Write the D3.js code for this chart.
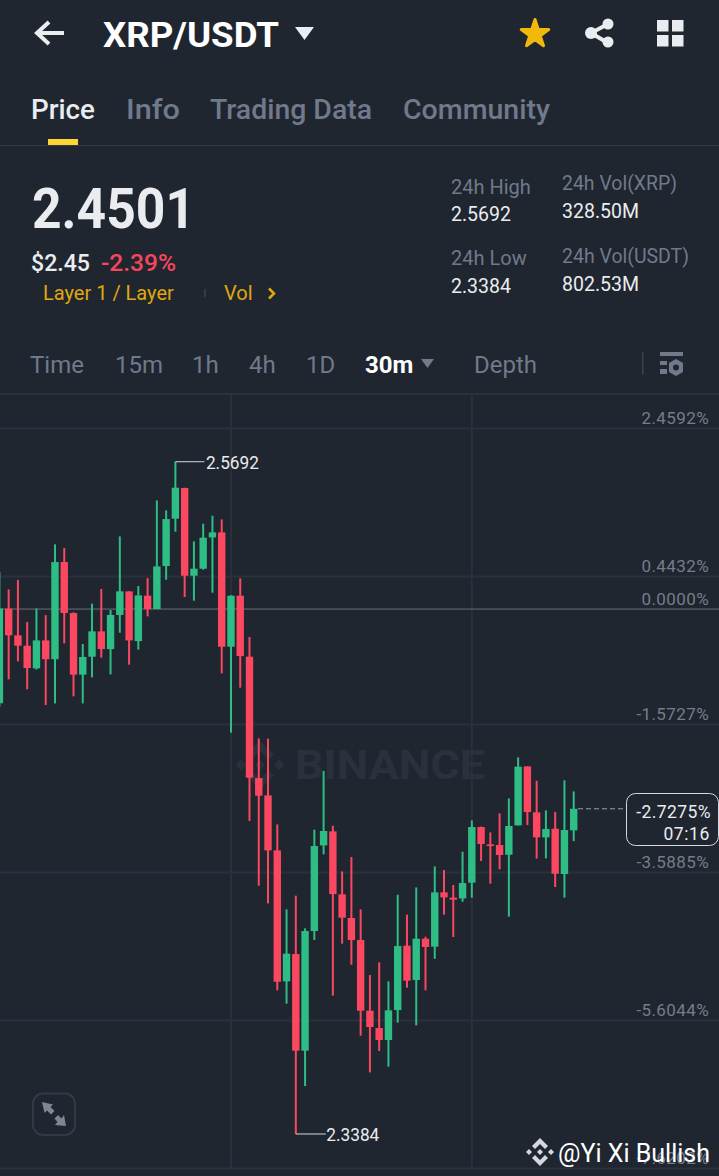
<!DOCTYPE html>
<html>
<head>
<meta charset="utf-8">
<script src="https://cdn.jsdelivr.net/npm/d3@7"></script>
<style>
html, body { margin: 0; padding: 0; background: #1f2630; overflow: hidden; }
svg { display: block; }
text { font-family: "Roboto", sans-serif; }
</style>
</head>
<body>
<div id="chart"></div>
<script>
// Candle values, in % from the day's open
var candleOpen = [-1.29, 0.00, -0.365, -0.506, -0.815, -0.434, -0.69, 0.633, -0.061, -0.90, -0.656, -0.311, -0.552, -0.088, 0.234, -0.443, 0.175, -0.007, 0.579, 1.224, 1.641, 0.447, 0.543, 0.969, 1.037, -0.52, 0.175, -0.656, -2.309, -2.545, -3.294, -5.078, -4.706, -6.022, -4.392, -3.226, -3.035, -3.893, -4.215, -4.515, -5.478, -5.714, -5.877, -5.469, -4.592, -5.06, -4.497, -4.606, -3.866, -3.938, -3.948, -3.734, -2.976, -3.212, -3.221, -3.353, -2.953, -2.15, -2.776, -3.117, -2.999, -3.616, -3.021];
var candleClose = [0.00, -0.365, -0.506, -0.81, -0.434, -0.69, 0.633, -0.061, -0.90, -0.66, -0.311, -0.552, -0.088, 0.234, -0.434, 0.179, -0.007, 0.574, 1.219, 1.646, 0.447, 0.543, 0.965, 1.037, -0.52, 0.175, -0.647, -2.304, -2.549, -3.294, -5.083, -4.701, -6.022, -4.393, -3.235, -3.03, -3.889, -4.211, -4.515, -5.478, -5.70, -5.877, -5.473, -4.597, -5.069, -4.497, -4.61, -3.866, -3.934, -3.966, -3.739, -2.976, -3.207, -3.235, -3.357, -2.962, -2.154, -2.772, -3.117, -3.003, -3.612, -3.017, -2.7275];
var candleHigh = [0.50, 0.26, 0.39, -0.184, 0.00, -0.09, 0.874, 0.824, -0.052, -0.483, 0.066, 0.266, -0.02, 0.983, 0.234, 0.306, 0.415, 1.473, 1.337, 2.00, 1.646, 0.915, 1.155, 1.264, 1.214, 0.18, 0.411, -0.388, -1.768, -1.773, -2.94, -4.097, -3.911, -4.356, -3.012, -2.213, -2.958, -3.58, -3.385, -4.097, -4.992, -4.819, -5.078, -3.898, -4.17, -3.798, -4.47, -3.512, -3.562, -3.766, -3.312, -2.885, -2.97, -3.049, -2.79, -2.586, -2.027, -2.15, -2.345, -2.749, -2.772, -2.34, -2.49];
var candleLow = [-1.34, -0.965, -0.72, -1.10, -0.83, -1.314, -1.292, -0.474, -1.196, -1.292, -0.937, -0.67, -0.897, -0.329, -0.765, -0.56, -0.107, -0.007, 0.393, 1.047, 0.157, 0.107, 0.529, 0.216, -0.883, -1.691, -1.078, -2.894, -3.775, -4.016, -5.20, -5.382, -7.157, -6.504, -4.515, -3.348, -5.273, -4.565, -4.851, -5.818, -6.318, -6.027, -6.24, -5.641, -5.164, -5.677, -5.20, -4.77, -4.17, -4.474, -3.993, -3.938, -3.439, -3.748, -3.553, -4.197, -2.953, -2.949, -3.407, -3.403, -3.793, -3.938, -3.167];

var percentTicks = [2.4592, 0.4432, 0, -1.5727, -3.5885, -5.6044, -7.6202];
var timeGridCandles = [25, 51];
var highCandle = 19, highLabel = "2.5692";
var lowCandle = 32, lowLabel = "2.3384";
var lastPercent = -2.7275, lastLabel = "-2.7275%", countdownLabel = "07:16";

var tabNames = ["Price", "Info", "Trading Data", "Community"];
var intervalNames = ["Time", "15m", "1h", "4h", "1D", "30m", "Depth"];

// Colours
var bg = "#1f2630", grid = "#2a313c", muted = "#707a8a", white = "#eaecef";
var up = "#2ebd85", down = "#fb4760", gold = "#e0a80d";

var svg = d3.select("#chart").append("svg")
    .attr("width", 719)
    .attr("height", 1176);

svg.append("rect").attr("width", 719).attr("height", 1176).attr("fill", bg);

function label(x, y, str, size, color, weight, anchor, spacing) {
    return svg.append("text")
        .attr("x", x).attr("y", y)
        .attr("font-size", size)
        .attr("fill", color)
        .attr("font-weight", weight || 400)
        .attr("text-anchor", anchor || "start")
        .attr("letter-spacing", spacing || 0)
        .text(str);
}

// Squeeze a label to the width it has in the picture
function fit(sel, w) {
    return sel.attr("textLength", w).attr("lengthAdjust", "spacingAndGlyphs");
}

// Binance logo: two chevrons and three small diamonds
function logo(cx, cy, s, color) {
    var g = svg.append("g").attr("transform", `translate(${cx},${cy}) scale(${s})`).attr("fill", color);
    g.append("path").attr("d", "M0 -14L8 -6L5 -3L0 -8L-5 -3L-8 -6Z");
    g.append("path").attr("d", "M0 14L8 6L5 3L0 8L-5 3L-8 6Z");
    g.append("path").attr("d", "M0 -3L3 0L0 3L-3 0Z");
    g.append("path").attr("d", "M-11 -3L-8 0L-11 3L-14 0Z");
    g.append("path").attr("d", "M11 -3L14 0L11 3L8 0Z");
}

// Header
svg.append("path").attr("d", "M64 33H38M49 22L37 33L49 44")
    .attr("fill", "none").attr("stroke", white).attr("stroke-width", 4);
fit(label(103, 47, "XRP/USDT", 35, "#fff", 700), 176);
svg.append("path").attr("d", "M295 27H314L304.5 40Z").attr("fill", white);

// star
var star = d3.symbol().type(d3.symbolStar).size(235);
svg.append("path").attr("d", star()).attr("transform", "translate(535,34)")
    .attr("fill", "#f0b90b").attr("stroke", "#f0b90b").attr("stroke-width", 3).attr("stroke-linejoin", "round");

// share
svg.append("path").attr("d", "M608 24L591 33L608 43").attr("fill", "none").attr("stroke", white).attr("stroke-width", 4);
[[608, 24, 5.5], [591, 33, 6], [608, 42, 5.5]].forEach(function (c) {
    svg.append("circle").attr("cx", c[0]).attr("cy", c[1]).attr("r", c[2]).attr("fill", white);
});

// app grid
[[657, 20], [672, 20], [657, 35], [672, 35]].forEach(function (c) {
    svg.append("rect").attr("x", c[0]).attr("y", c[1]).attr("width", 11.5).attr("height", 11.5).attr("fill", white);
});

// Tabs
var tabX = [31, 126, 210, 403];
var tabWidth = [64, 54, 162, 147];
tabNames.forEach(function (t, i) {
    fit(label(tabX[i], 119, t, 27, i === 0 ? white : muted, 500), tabWidth[i]);
});
svg.append("rect").attr("x", 48).attr("y", 139).attr("width", 30).attr("height", 6).attr("fill", "#fcd535");
svg.append("rect").attr("x", 0).attr("y", 145).attr("width", 719).attr("height", 1).attr("fill", "#343b47");

// Price block
fit(label(32, 228, "2.4501", 55, white, 700), 163);
fit(label(31, 271, "$2.45", 24, white, 500), 59);
fit(label(101, 271, "-2.39%", 24, "#f6465d", 500), 75);
label(43, 300, "Layer 1 / Layer", 20, gold);
svg.append("rect").attr("x", 204).attr("y", 289).attr("width", 2).attr("height", 8).attr("fill", "#343b47");
label(224, 300, "Vol", 20, gold);
svg.append("path").attr("d", "M269 288.5L274 293.5L269 298.5").attr("fill", "none").attr("stroke", gold).attr("stroke-width", 2.5);

// 24h stats
label(451, 194, "24h High", 20, muted);
fit(label(451, 221, "2.5692", 20, white), 60);
label(451, 265, "24h Low", 20, muted);
fit(label(451, 293, "2.3384", 20, white), 60);
fit(label(562, 190, "24h Vol(XRP)", 20, muted), 115);
fit(label(562, 218, "328.50M", 20, white), 77);
fit(label(562, 263, "24h Vol(USDT)", 20, muted), 127);
fit(label(562, 291, "802.53M", 20, white), 77);

// Interval row
var intervalX = [30, 115, 192, 249, 306, 365, 474];
intervalNames.forEach(function (t, i) {
    var active = t === "30m";
    label(intervalX[i], 373, t, 24, active ? "#fff" : muted, active ? 700 : 400);
});
svg.append("path").attr("d", "M421 359H434L427.5 368Z").attr("fill", muted);
svg.append("rect").attr("x", 642).attr("y", 352).attr("width", 1.5).attr("height", 23).attr("fill", "#3a414d");
svg.append("path").attr("d", "M660 352H683V356H660ZM660 361H667V365H660ZM660 369H667V374H660Z").attr("fill", muted);
svg.append("path").attr("d", "M676 359L683 363V372L676 376L669 372V363Z").attr("fill", muted);
svg.append("circle").attr("cx", 676).attr("cy", 367.5).attr("r", 3).attr("fill", bg);

// Scales
var x = d3.scaleLinear().domain([0, candleOpen.length - 1]).range([-0.6, 573.7]);
var y = d3.scaleLinear().domain([2.4592, -7.6202]).range([428, 1168]);

// Chart frame and grid
svg.append("rect").attr("x", 0).attr("y", 393).attr("width", 719).attr("height", 2).attr("fill", grid);

svg.selectAll(".vgrid")
    .data(timeGridCandles)
    .enter()
    .append("line")
    .attr("class", "vgrid")
    .attr("x1", d => x(d)).attr("x2", d => x(d))
    .attr("y1", 394).attr("y2", 1168)
    .attr("stroke", grid).attr("stroke-width", 2);

var yAxis = d3.axisRight(y)
    .tickValues(percentTicks)
    .tickSize(719)
    .tickPadding(0)
    .tickFormat(d => d3.format(".4f")(d).replace("\u2212", "-") + "%");

var axisGroup = svg.append("g").call(yAxis);
axisGroup.select(".domain").remove();
axisGroup.selectAll(".tick line")
    .attr("stroke", d => d === 0 ? "#6b7079" : grid)
    .attr("stroke-width", d => d === 0 ? 1 : 2);
axisGroup.selectAll(".tick text")
    .attr("x", 709).attr("dy", -4.5)
    .attr("text-anchor", "end")
    .attr("font-size", 17)
    .attr("font-family", "Roboto, sans-serif")
    .attr("letter-spacing", 0.4)
    .attr("fill", "#767d89");

// BINANCE watermark
var wm = "#2a313c";
logo(260, 765, 1.75, wm);
fit(label(295, 779, "BINANCE", 40, wm, 700), 190);

// Candles
var candles = d3.range(candleOpen.length);
var bodyWidth = 7.4;
var color = i => candleClose[i] >= candleOpen[i] ? up : down;

svg.append("g").selectAll("line")
    .data(candles)
    .enter()
    .append("line")
    .attr("x1", i => x(i)).attr("x2", i => x(i))
    .attr("y1", i => y(candleHigh[i]))
    .attr("y2", i => y(candleLow[i]))
    .attr("stroke", color)
    .attr("stroke-width", 2);

svg.append("g").selectAll("rect")
    .data(candles)
    .enter()
    .append("rect")
    .attr("x", i => x(i) - bodyWidth / 2)
    .attr("width", bodyWidth)
    .attr("y", i => y(Math.max(candleOpen[i], candleClose[i])))
    .attr("height", i => Math.max(1.5, Math.abs(y(candleOpen[i]) - y(candleClose[i]))))
    .attr("fill", color);

// High / low markers
svg.append("line")
    .attr("x1", x(highCandle)).attr("x2", x(highCandle) + 29)
    .attr("y1", y(candleHigh[highCandle])).attr("y2", y(candleHigh[highCandle]))
    .attr("stroke", "#d5d8dc").attr("stroke-width", 1);
fit(label(x(highCandle) + 30.5, y(candleHigh[highCandle]) + 7, highLabel, 17.5, white), 53);

svg.append("line")
    .attr("x1", x(lowCandle)).attr("x2", x(lowCandle) + 30)
    .attr("y1", y(candleLow[lowCandle])).attr("y2", y(candleLow[lowCandle]))
    .attr("stroke", "#d5d8dc").attr("stroke-width", 1);
fit(label(x(lowCandle) + 30.5, y(candleLow[lowCandle]) + 7, lowLabel, 17.5, white), 53);

// Last price tag
svg.append("line")
    .attr("x1", 578).attr("x2", 627)
    .attr("y1", y(lastPercent)).attr("y2", y(lastPercent))
    .attr("stroke", "#9aa0a8").attr("stroke-width", 1).attr("stroke-dasharray", "5 3");
svg.append("rect")
    .attr("x", 626.5).attr("y", 793.5).attr("width", 92).attr("height", 52).attr("rx", 9)
    .attr("fill", bg).attr("stroke", "#d5d8dc").attr("stroke-width", 1);
label(711, 818, lastLabel, 17.5, white, 400, "end", 0.4);
label(710, 840, countdownLabel, 17.5, white, 400, "end", 0.6);

// Expand button
svg.append("rect").attr("x", 33).attr("y", 1093.5).attr("width", 42).attr("height", 41.5).attr("rx", 10)
    .attr("fill", "none").attr("stroke", "#333a46").attr("stroke-width", 2);
svg.append("path").attr("d", "M42 1102L53 1104.5L50.5 1107L54.5 1111L51 1114.5L47 1110.5L44.5 1113Z").attr("fill", "#7f8794");
svg.append("path").attr("d", "M66 1126L55 1125L57.5 1122L54.5 1118.5L58 1115L61.5 1118.5L64 1115Z").attr("fill", "#7f8794");

// Repost watermark
logo(540, 1152, 1, "#d5d8dc");
fit(label(558, 1162, "@Yi Xi Bullish", 26, "#fff"), 152);
</script>
</body>
</html>
